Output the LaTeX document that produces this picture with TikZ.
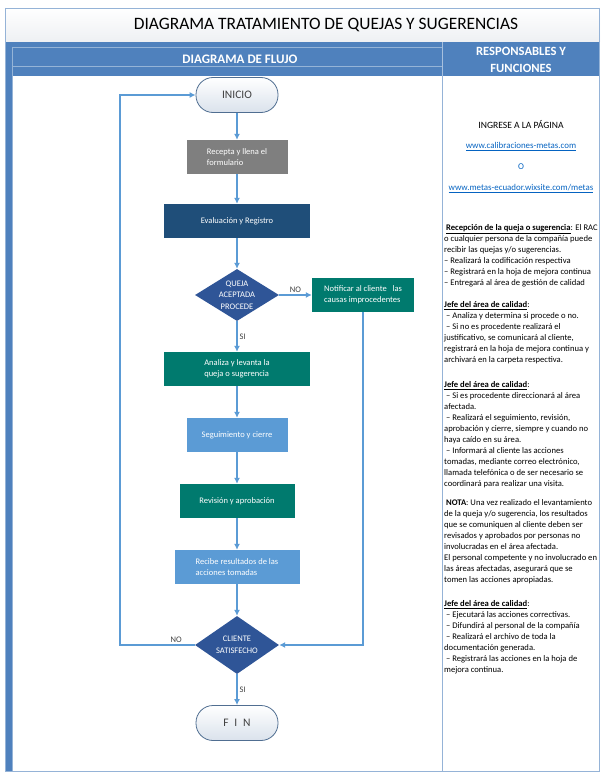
\documentclass[tikz,border=0pt]{standalone}
\usepackage{fontspec}
\setmainfont{Carlito}
\usetikzlibrary{shapes.geometric,arrows.meta}
\definecolor{azulcab}{RGB}{79,129,189}
\definecolor{marco}{RGB}{149,179,215}
\definecolor{gris}{RGB}{127,127,127}
\definecolor{azulosc}{RGB}{31,78,121}
\definecolor{azuldec}{RGB}{47,85,151}
\definecolor{verde}{RGB}{0,122,110}
\definecolor{celeste}{RGB}{91,155,213}
\definecolor{flecha}{RGB}{91,155,213}
\definecolor{borde}{RGB}{80,110,145}
\definecolor{enlace}{RGB}{5,99,193}
\definecolor{textogris}{RGB}{64,64,64}
\tikzset{
	caja/.style={minimum height=34pt, inner sep=3pt, text=white, align=left, font=\fontsize{8.5}{11}\selectfont},
	decision/.style={diamond, fill=azuldec, aspect=1.6, inner sep=0pt, minimum width=84pt, text=white, align=center, font=\fontsize{8.5}{11.5}\selectfont},
	terminal/.style={draw=borde, line width=0.8pt, rounded corners=17pt, minimum width=82pt, minimum height=35pt, top color=white, bottom color={rgb,255:red,218;green,226;blue,236}, text=textogris, font=\fontsize{11.5}{13}\selectfont},
	flujo/.style={draw=flecha, line width=1.4pt, -{Latex[length=6pt,width=6pt]}},
	etiqueta/.style={font=\fontsize{8.5}{10}\selectfont, text=textogris, inner sep=2pt},
	funcion/.style={anchor=north west, inner sep=0pt, align=left, font=\fontsize{8.6}{11}\selectfont}
}
\newcommand{\enl}[1]{\textcolor{enlace}{\underline{#1}}}
\begin{document}
\begin{tikzpicture}[x=1pt,y=-1pt]
	\useasboundingbox (0,0) rectangle (600,776);
	
	% encabezado
	\shade[top color=white, bottom color={rgb,255:red,238;green,240;blue,243}] (5,8) rectangle (600,42);
	\draw[marco] (5,8) -- (600,8);
	\node[font=\fontsize{17.4}{20}\selectfont, text=black] (titulo) at (326,25) {DIAGRAMA TRATAMIENTO DE QUEJAS Y SUGERENCIAS};
	\fill[azulcab] (5,42) rectangle (600,76);
	\fill[azulcab] (5,76) rectangle (12,772);
	\draw[azulcab!60!white, line width=0.4pt] (12,47) -- (442,47);
	\draw[azulcab!60!white, line width=0.4pt] (12,66) -- (442,66);
	\draw[azulcab!60!white, line width=0.4pt] (12,47) -- (12,772);
	\draw[azulcab!50!white, line width=0.6pt] (442,42) -- (442,76);
	\node[font=\bfseries\fontsize{13}{15}\selectfont, text=white] (flujo) at (240,59) {DIAGRAMA DE FLUJO};
	\node[font=\bfseries\fontsize{12.6}{17}\selectfont, text=white, align=center] (resp) at (521,59.5) {RESPONSABLES Y\\FUNCIONES};
	\draw[marco, line width=0.8pt] (442,76) -- (442,772);
	\draw[marco, line width=0.8pt] (5,771) -- (600,771);
	\draw[marco, line width=0.8pt] (599.5,8) -- (599.5,772);
	\draw[marco, line width=0.8pt] (5,8) -- (5,772);
	
	% diagrama de flujo
	\node[terminal] (inicio) at (237,95) {INICIO};
	\node[caja, fill=gris, minimum width=101pt] (recepta) at (237,157) {Recepta y llena el\\formulario};
	\node[caja, fill=azulosc, minimum width=146pt] (evalua) at (237,221) {Evaluación y Registro};
	\node[decision, minimum height=52pt] (queja) at (237,295) {QUEJA\\ACEPTADA\\PROCEDE};
	\node[caja, fill=verde, minimum width=102pt] (notif) at (363,295) {Notificar al cliente \ \ las\\causas improcedentes};
	\node[caja, fill=verde, minimum width=146pt] (analiza) at (237,369) {Analiza y levanta la\\queja o sugerencia};
	\node[caja, fill=celeste, minimum width=101pt] (seguim) at (237,435) {Seguimiento y cierre};
	\node[caja, fill=verde, minimum width=115pt] (revision) at (237,501) {Revisión y aprobación};
	\node[caja, fill=celeste, minimum width=125pt] (recibe) at (237,567) {Recibe resultados de las\\acciones tomadas};
	\node[decision, minimum height=58pt] (cliente) at (237,645) {CLIENTE\\SATISFECHO};
	\node[terminal] (fin) at (237,723) {F\,\,\,I\,\,\,N};
	\coordinate (lazo) at (120,645);
	
	\draw[flujo] (inicio) -- (recepta);
	\draw[flujo] (recepta) -- (evalua);
	\draw[flujo] (evalua) -- (queja);
	\draw[flujo] (queja) -- node[etiqueta, above]{NO} (notif);
	\draw[flujo] (queja) -- node[etiqueta, right]{SI} (analiza);
	\draw[flujo] (analiza) -- (seguim);
	\draw[flujo] (seguim) -- (revision);
	\draw[flujo] (revision) -- (recibe);
	\draw[flujo] (recibe) -- (cliente);
	\draw[flujo] (notif.south) |- (cliente.east);
	\draw[flujo] (cliente.west) -- node[etiqueta, above, pos=0.25]{NO} (lazo) |- (inicio.west);
	\draw[flujo] (cliente) -- node[etiqueta, right]{SI} (fin);
	
	% responsables y funciones
	\node[anchor=north, inner sep=0pt, align=center, font=\fontsize{8.9}{20.7}\selectfont] (pagina) at (521,120) {{\fontsize{9.6}{11}\selectfont INGRESE A LA PÁGINA}\\\enl{www.calibraciones-metas.com}\\\textcolor{enlace}{O}\\\enl{www.metas-ecuador.wixsite.com/metas}};
	\node[funcion] (recepcion) at (444,224) {\ \textbf{\underline{Recepción de la queja o sugerencia}}: El RAC\\o cualquier persona de la compañía puede\\recibir las quejas y/o sugerencias.\\– Realizará la codificación respectiva\\– Registrará en la hoja de mejora continua\\– Entregará al área de gestión de calidad};
	\node[funcion] (jefeuno) at (444,301) {\textbf{\underline{Jefe del área de calidad}}:\\\ – Analiza y determina si procede o no.\\\ – Si no es procedente realizará el\\justificativo, se comunicará al cliente,\\registrará en la hoja de mejora continua y\\archivará en la carpeta respectiva.};
	\node[funcion] (jefedos) at (444,381) {\textbf{\underline{Jefe del área de calidad}}:\\\ – Si es procedente direccionará al área\\afectada.\\\ – Realizará el seguimiento, revisión,\\aprobación y cierre, siempre y cuando no\\haya caído en su área.\\\ – Informará al cliente las acciones\\tomadas, mediante correo electrónico,\\llamada telefónica o de ser necesario se\\coordinará para realizar una visita.};
	\node[funcion] (nota) at (444,499) {\ \textbf{NOTA}: Una vez realizado el levantamiento\\de la queja y/o sugerencia, los resultados\\que se comuniquen al cliente deben ser\\revisados y aprobados por personas no\\involucradas en el área afectada.\\El personal competente y no involucrado en\\las áreas afectadas, asegurará que se\\tomen las acciones apropiadas.};
	\node[funcion] (jefetres) at (444,600) {\textbf{\underline{Jefe del área de calidad}}:\\\ – Ejecutará las acciones correctivas.\\\ – Difundirá al personal de la compañía\\\ – Realizará el archivo de toda la\\documentación generada.\\\ – Registrará las acciones en la hoja de\\mejora continua.};
\end{tikzpicture}
\end{document}
